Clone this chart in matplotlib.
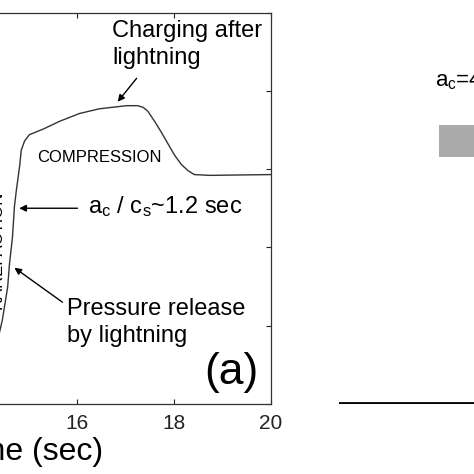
import numpy as np
import matplotlib
matplotlib.use("Agg")
import matplotlib.pyplot as plt
from matplotlib.patches import Rectangle

plt.rcParams['font.family'] = ['Liberation Sans', 'DejaVu Sans']
plt.rcParams['mathtext.fontset'] = 'custom'
plt.rcParams['mathtext.rm'] = 'Liberation Sans'
plt.rcParams['mathtext.it'] = 'Liberation Sans'

# Datos (tiempo en s, senal en unidades arbitrarias)
t = np.array([14.20, 14.41, 14.47, 14.58, 14.62, 14.68, 14.72, 14.76, 14.83,
              14.86, 14.93, 15.03, 15.31, 15.65, 16.06, 16.47, 16.75, 17.03,
              17.26, 17.37, 17.47, 17.61, 17.75, 17.88, 18.02, 18.16, 18.30,
              18.43, 18.74, 20.00])
senal = np.array([0.55, 0.91, 1.07, 1.49, 1.80, 2.13, 2.52, 2.73, 3.05,
                  3.24, 3.36, 3.44, 3.51, 3.61, 3.71, 3.77, 3.79, 3.81,
                  3.81, 3.79, 3.74, 3.61, 3.47, 3.33, 3.18, 3.06, 2.98,
                  2.93, 2.92, 2.93])

xticks = [10, 12, 14, 16, 18, 20]
yticks = [0, 1, 2, 3, 4, 5]

W = 474.0
fig = plt.figure(figsize=(4.74, 4.74), dpi=100)

# Panel (a): la parte izquierda queda fuera del recorte
ax = fig.add_axes([-214.5 / W, 70 / W, 485 / W, 391.5 / W])
ax.plot(t, senal, color='#333333', linewidth=1.0)
ax.set_xlim(10, 20)
ax.set_ylim(0, 5)
ax.set_xticks(xticks)
ax.set_yticks(yticks)
ax.tick_params(direction='in', top=True, right=True, length=3.5,
               width=0.8, labelsize=15, pad=7, colors='#222222')
for s in ax.spines.values():
    s.set_linewidth(0.9)
    s.set_color('#333333')
ax.set_xlabel('Time (sec)', fontsize=23, labelpad=3)
ax.set_ylabel('Signal')

ax.text(15.18, 3.15, 'COMPRESSION', fontsize=12, va='center', ha='left')
ax.text(14.52, 1.97, 'RAREFACTION', fontsize=12, rotation=90,
        va='center', ha='right')
ax.text(18.64, 0.40, '(a)', fontsize=32, va='center', ha='left')

arrow = dict(arrowstyle='-|>', color='black', lw=1.0,
             mutation_scale=10, shrinkA=0, shrinkB=0)
ax.annotate('', xy=(16.85, 3.86), xytext=(17.24, 4.16), arrowprops=arrow)
ax.text(16.74, 4.90, 'Charging after\nlightning', fontsize=17,
        va='top', ha='left', linespacing=1.27)
ax.annotate('', xy=(14.82, 2.50), xytext=(16.02, 2.50), arrowprops=arrow)
ax.text(16.23, 2.52, r'a$_{\rm c}$ / c$_{\rm s}$~1.2 sec', fontsize=17,
        va='center', ha='left')
ax.annotate('', xy=(14.72, 1.74), xytext=(15.71, 1.30), arrowprops=arrow)
ax.text(15.81, 1.36, 'Pressure release\nby lightning', fontsize=17,
        va='top', ha='left', linespacing=1.3)

# Panel derecho (esquema), solo se ve su borde izquierdo
ax2 = fig.add_axes([339 / W, 70 / W, 200 / W, 391.5 / W])
ax2.set_xlim(0, 1)
ax2.set_ylim(0, 1)
ax2.axis('off')
ax2.axhline(0.002, color='black', linewidth=2.0)
ax2.add_patch(Rectangle((0.5, 0.63), 0.3, 0.082, color='#aaaaaa', lw=0))
ax2.text(0.48, 0.81, r'a$_{\rm c}$=4 km', fontsize=16, ha='left',
         va='baseline')

fig.savefig('out.png', dpi=100)
